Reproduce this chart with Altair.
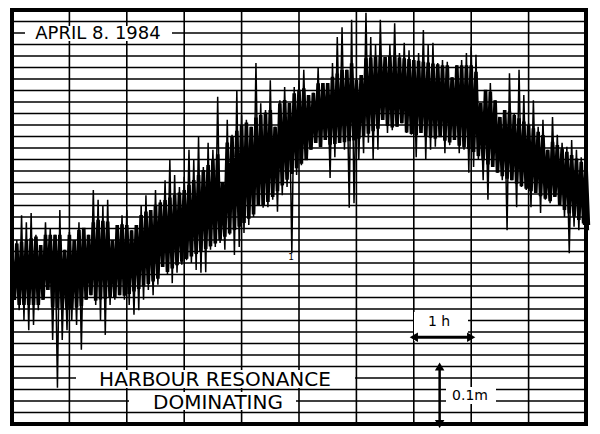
import altair as alt
import numpy as np
import pandas as pd

# Time of each reading, minutes after the start of the record (5-minute steps, 10 hours)
minutes = list(range(0, 605, 5))

# Upper swing of the trace at each step (cm above the chart's bottom line)
peak_cm = [29.4, 32.0, 36.3, 35.1, 36.7, 32.9, 31.1, 35.1, 34.1, 32.9,
           37.2, 30.3, 33.4, 32.0, 35.1, 34.1, 32.9, 40.7, 39.0, 38.1,
           39.0, 32.0, 34.6, 36.3, 37.2, 33.7, 34.6, 38.1, 39.8, 37.2,
           40.7, 39.0, 42.4, 45.9, 43.3, 41.2, 43.0, 47.7, 45.9, 49.9,
           44.7, 48.9, 47.7, 56.9, 41.9, 52.9, 50.3, 58.1, 53.7, 52.9,
           51.7, 62.8, 55.8, 54.6, 59.8, 51.7, 56.3, 58.6, 55.8, 58.6,
           59.8, 61.6, 57.2, 57.6, 61.9, 59.3, 59.3, 62.8, 67.3, 69.0,
           61.6, 70.3, 59.8, 60.7, 71.5, 67.3, 65.9, 70.3, 63.8, 65.9,
           69.7, 64.5, 66.3, 65.0, 63.8, 64.5, 68.5, 65.9, 66.3, 62.8,
           63.3, 63.0, 60.3, 62.4, 63.3, 64.5, 65.6, 64.2, 55.8, 58.1,
           59.3, 56.3, 53.4, 54.6, 61.0, 54.1, 61.6, 57.2, 52.3, 56.3,
           51.7, 52.9, 47.7, 53.4, 50.3, 48.9, 48.2, 49.4, 47.7, 46.4,
           45.0]

# Lower swing of the trace at each step (cm)
trough_cm = [21.6, 19.8, 18.1, 16.3, 17.2, 19.8, 21.6, 23.3, 14.6, 6.3,
             14.6, 16.3, 18.1, 17.2, 12.9, 21.6, 22.4, 20.7, 18.1, 15.5,
             20.7, 21.6, 22.4, 21.6, 20.7, 19.0, 19.8, 21.6, 23.3, 22.4,
             24.2, 27.3, 25.9, 24.5, 26.3, 27.7, 28.5, 28.0, 26.8, 26.3,
             26.4, 30.3, 30.8, 31.5, 30.3, 32.9, 29.4, 30.8, 33.2, 34.6,
             36.0, 38.1, 37.6, 37.7, 39.0, 36.9, 39.8, 41.2, 29.7, 43.3,
             45.0, 45.9, 47.7, 48.9, 48.2, 49.4, 42.8, 46.4, 48.9, 47.7,
             37.6, 38.4, 45.9, 47.1, 48.9, 45.9, 47.7, 52.9, 50.6, 51.1,
             51.7, 52.3, 50.6, 50.3, 46.4, 50.6, 45.9, 47.7, 48.2, 49.9,
             47.1, 48.5, 49.4, 47.1, 47.7, 43.7, 44.7, 45.9, 42.4, 39.0,
             44.7, 43.7, 42.4, 33.7, 42.4, 37.7, 41.2, 40.7, 37.7, 40.2,
             36.7, 39.0, 38.4, 39.5, 38.1, 36.0, 29.7, 34.3, 33.7, 34.6,
             33.7]

# Dense (solid black) core of the trace, read every 30 minutes (cm)
core_minutes = list(range(0, 601, 30))
core_top_cm = [31.1, 32.9, 32.9, 35.5, 34.6, 38.1, 40.7, 45.9, 52.0, 54.6, 58.1,
               59.8, 63.3, 64.2, 63.3, 62.4, 62.4, 55.5, 52.0, 48.5, 45.0]
core_bottom_cm = [20.7, 20.7, 19.8, 21.6, 22.4, 25.0, 28.5, 31.1, 34.6, 39.0, 45.0,
                  48.5, 49.4, 52.0, 50.3, 49.4, 47.7, 43.3, 40.7, 38.1, 34.6]

# Chart paper ruling
hour_lines = list(range(0, 601, 60))
level_lines = list(range(0, 73, 2))

# Scale bars: 1 hour and 0.1 m
hour_bar_t = [420, 480]
hour_bar_level = 15.1
metre_bar_t = 447
metre_bar_level = [0, 10]

rows = []
for i, (t, hi, lo) in enumerate(zip(minutes, peak_cm, trough_cm)):
    rows.append({"t": t, "level": hi, "k": 2 * i})
    rows.append({"t": t + 2.5, "level": lo, "k": 2 * i + 1})
trace_df = pd.DataFrame(rows)
# the pen strokes that stay inside the dense core (trace clipped to the core band)
ct = np.interp(trace_df["t"], core_minutes, core_top_cm)
cb = np.interp(trace_df["t"], core_minutes, core_bottom_cm)
trace_df["core_level"] = np.clip(trace_df["level"], cb, ct)

xscale = alt.Scale(domain=[0, 600], nice=False, zero=False)
yscale = alt.Scale(domain=[0, 72], nice=False, zero=False)

vgrid = alt.Chart(pd.DataFrame({"t": hour_lines})).mark_rule(color="black", strokeWidth=1.6).encode(
    x=alt.X("t:Q", scale=xscale, axis=None))
hgrid = alt.Chart(pd.DataFrame({"level": level_lines})).mark_rule(color="black", strokeWidth=1.5).encode(
    y=alt.Y("level:Q", scale=yscale, axis=None))

core = alt.Chart(trace_df).mark_line(color="black", strokeWidth=3.6).encode(
    x=alt.X("t:Q", scale=xscale, axis=None),
    y=alt.Y("core_level:Q", scale=yscale, axis=None),
    order="k:Q",
)
trace = alt.Chart(trace_df).mark_line(color="black", strokeWidth=1.5).encode(
    x=alt.X("t:Q", scale=xscale, axis=None),
    y=alt.Y("level:Q", scale=yscale, axis=None),
    order="k:Q",
)

one = pd.DataFrame({"a": [0]})
FONT = "DejaVu Sans"


def box(x1, x2, y1, y2):
    return alt.Chart(one).mark_rect(color="white").encode(
        x=alt.value(x1), x2=alt.value(x2), y=alt.value(y1), y2=alt.value(y2))


def label(txt, x, y, size, align="center"):
    return alt.Chart(one).mark_text(
        text=txt, font=FONT, fontSize=size, color="black", align=align, baseline="middle"
    ).encode(x=alt.value(x), y=alt.value(y))


boxes = [
    box(13, 160, 16, 31),
    box(64, 343, 360, 378),
    box(117, 284, 382, 400),
    box(402, 456, 302, 331),
    box(434, 484, 377, 394),
]
labels = [
    label("APRIL 8. 1984", 86, 24, 18),
    label("HARBOUR RESONANCE", 203, 370, 20),
    label("DOMINATING", 206, 393, 20),
    label("1 h", 427, 312, 14),
    label("0.1m", 458, 386, 14),
    label("1", 279, 247, 9),
]

hbar_df = pd.DataFrame({"t0": [hour_bar_t[0]], "t1": [hour_bar_t[1]], "level": [hour_bar_level]})
hx0 = alt.X("t0:Q", scale=xscale, axis=None)
hy = alt.Y("level:Q", scale=yscale, axis=None)
hbar = alt.Chart(hbar_df).mark_rule(color="black", strokeWidth=3).encode(x=hx0, x2="t1:Q", y=hy)
hleft = alt.Chart(hbar_df).mark_point(shape="triangle-left", filled=True, color="black", size=90, opacity=1).encode(
    x=hx0, y=hy)
hright = alt.Chart(hbar_df).mark_point(shape="triangle-right", filled=True, color="black", size=90, opacity=1).encode(
    x=alt.X("t1:Q", scale=xscale, axis=None), y=hy)

vbar_df = pd.DataFrame({"t": [metre_bar_t], "l0": [metre_bar_level[0]], "l1": [metre_bar_level[1]]})
vx = alt.X("t:Q", scale=xscale, axis=None)
vbar = alt.Chart(vbar_df).mark_rule(color="black", strokeWidth=2.5).encode(
    x=vx, y=alt.Y("l0:Q", scale=yscale, axis=None), y2="l1:Q")
vup = alt.Chart(vbar_df).mark_point(shape="triangle-up", filled=True, color="black", size=90, opacity=1).encode(
    x=vx, y=alt.Y("l1:Q", scale=yscale, axis=None))
vdown = alt.Chart(vbar_df).mark_point(shape="triangle-down", filled=True, color="black", size=90, opacity=1).encode(
    x=vx, y=alt.Y("l0:Q", scale=yscale, axis=None))

chart = alt.layer(vgrid, hgrid, *boxes, core, trace, *labels, hbar, hleft, hright, vbar, vup, vdown).properties(
    width=574, height=414, autosize="none",
    padding={"left": 4, "top": 2, "right": 6, "bottom": 4},
    background="white",
).configure_view(stroke="black", strokeWidth=4)

chart.save("out.html", embed_options={"renderer": "svg", "actions": False})
